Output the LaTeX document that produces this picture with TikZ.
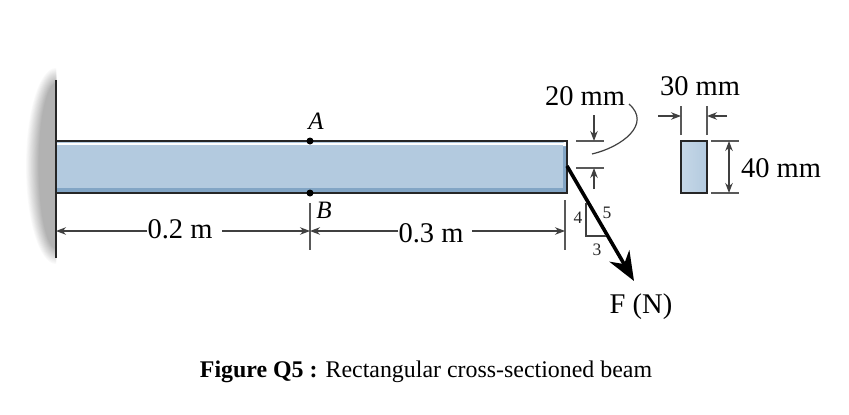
\documentclass[tikz,border=0pt]{standalone}
\usepackage{fontspec}
\setmainfont{Liberation Serif}
\definecolor{beamblue}{RGB}{179,202,223}
\definecolor{beamedge}{RGB}{130,165,197}
\usetikzlibrary{arrows.meta}
\begin{document}
\begin{tikzpicture}[
    x=1pt, y=-1pt, >=Stealth,
    dimtext/.style={inner sep=0pt, font=\fontsize{28.5}{30}\selectfont},
    smalltext/.style={inner sep=0pt, font=\fontsize{17.5}{19}\selectfont, text=black!85},
    pointtext/.style={inner sep=0pt, font=\fontsize{25}{27}\selectfont\itshape},
    tick/.style={draw=black!65, line width=1.2pt},
    dimline/.style={draw=black!75, line width=1.2pt, -{Stealth[length=10pt,width=7.5pt]}},
    dot/.style={circle, fill=black, inner sep=0pt, minimum size=7pt}
  ]
  \useasboundingbox (0,0) rectangle (849,415);

  % wall
  \begin{scope}
    \clip (20,60) rectangle (56,275);
    \foreach \i in {0,...,14}
      \fill[black!\the\numexpr 2*\i+2\relax] (56,166) ellipse [x radius={30-0.9*\i}, y radius={98-1.1*\i}];
  \end{scope}
  \coordinate (walltop) at (56,80);
  \coordinate (wallbot) at (56,258);
  \coordinate (walldim) at (56,231);

  % beam
  \fill[beamblue] (56,141) rectangle (567,193);
  \fill[white] (56,143) rectangle (564,145);
  \fill[beamedge] (56,188) rectangle (567,192);
  \fill[beamedge] (563,145) rectangle (566,192);
  \fill[white] (563,143) -- (566,141) -- (566,146) -- (563,146) -- cycle;
  \draw[line width=1.5pt, black!85] (walltop) -- (wallbot);
  \draw[line width=1.5pt, black!85] (56,141) -- (567,141) -- (567,193) -- (56,193);

  \node[dot] (A) at (310,141) {};
  \node[dot] (B) at (310,193) {};
  \node[pointtext] (Alabel) at (316,121) {A};
  \node[pointtext] (Blabel) at (324,210) {B};

  % length dimensions
  \coordinate (midtop) at (310,203);
  \coordinate (midbot) at (310,250);
  \coordinate (middim) at (310,231);
  \coordinate (endtop) at (565,200);
  \coordinate (endbot) at (565,250);
  \coordinate (enddim) at (565,231);
  \draw[tick] (midtop) -- (midbot);
  \draw[tick] (endtop) -- (endbot);
  \node[dimtext] (lenone) at (180,229) {0.2 m};
  \node[dimtext] (lentwo) at (431,233) {0.3 m};
  \draw[dimline] (lenone.west |- walldim) -- (walldim);
  \draw[dimline] (222,231) -- (middim);
  \draw[dimline] (lentwo.west |- middim) -- (middim);
  \draw[dimline] (472,231) -- (enddim);

  % 20 mm
  \coordinate (uppertick) at (576,141);
  \coordinate (uppertickr) at (604,141);
  \coordinate (lowertick) at (576,168);
  \coordinate (lowertickr) at (604,168);
  \coordinate (upperarrow) at (594,115);
  \coordinate (upperhit) at (594,141);
  \coordinate (lowerarrow) at (594,189);
  \coordinate (lowerhit) at (594,168);
  \draw[tick] (uppertick) -- (uppertickr);
  \draw[tick] (lowertick) -- (lowertickr);
  \draw[dimline] (upperarrow) -- (upperhit);
  \draw[dimline] (lowerarrow) -- (lowerhit);
  \node[dimtext] (twenty) at (585,96) {20 mm};
  \coordinate (leaderstart) at (592,154);
  \coordinate (leaderend) at (629,104);
  \draw[draw=black!75, line width=1.2pt] (leaderstart) .. controls (622,147) and (652,124) .. (leaderend);

  % load
  \coordinate (loadstart) at (567,166);
  \coordinate (loadend) at (634,281);
  \draw[line width=3.6pt, -{Stealth[length=29pt,width=23pt]}] (loadstart) -- (loadend);
  \node[dimtext] (load) at (641,307) {F (N)};
  \coordinate (slopetop) at (586,203);
  \coordinate (slopecorner) at (586,236);
  \coordinate (sloperight) at (606,236);
  \draw[draw=black!75, line width=1.2pt] (slopetop) -- (slopecorner) -- (sloperight);
  \node[smalltext] (slopefour) at (578,218) {4};
  \node[smalltext] (slopefive) at (607,213) {5};
  \node[smalltext] (slopethree) at (597,250) {3};

  % section
  \shade[left color=beamblue!75, right color=beamblue, draw=black!85, line width=1.6pt] (681,141) rectangle (707,193);
  \coordinate (secleft) at (681,135);
  \coordinate (secleftup) at (681,106);
  \coordinate (secright) at (707,135);
  \coordinate (secrightup) at (707,106);
  \coordinate (secleftarrow) at (658,116);
  \coordinate (secrightarrow) at (727,116);
  \draw[tick] (secleft) -- (secleftup);
  \draw[tick] (secright) -- (secrightup);
  \draw[dimline] (secleftarrow) -- (secleftarrow -| secleft);
  \draw[dimline] (secrightarrow) -- (secrightarrow -| secright);
  \node[dimtext] (thirty) at (700,86) {30 mm};

  \coordinate (sectopl) at (711,141);
  \coordinate (sectopr) at (739,141);
  \coordinate (secbotl) at (711,193);
  \coordinate (secbotr) at (739,193);
  \coordinate (heighttop) at (729,141);
  \coordinate (heightbot) at (729,193);
  \draw[tick] (sectopl) -- (sectopr);
  \draw[tick] (secbotl) -- (secbotr);
  \draw[dimline, {Stealth[length=10pt,width=7.5pt]}-{Stealth[length=10pt,width=7.5pt]}] (heighttop) -- (heightbot);
  \node[dimtext] (forty) at (781,168) {40 mm};

  % caption
  \node[inner sep=0pt, font=\fontsize{23.9}{26}\selectfont] (caption) at (426,372) {\textbf{Figure Q5 :} Rectangular cross-sectioned beam};
\end{tikzpicture}
\end{document}
